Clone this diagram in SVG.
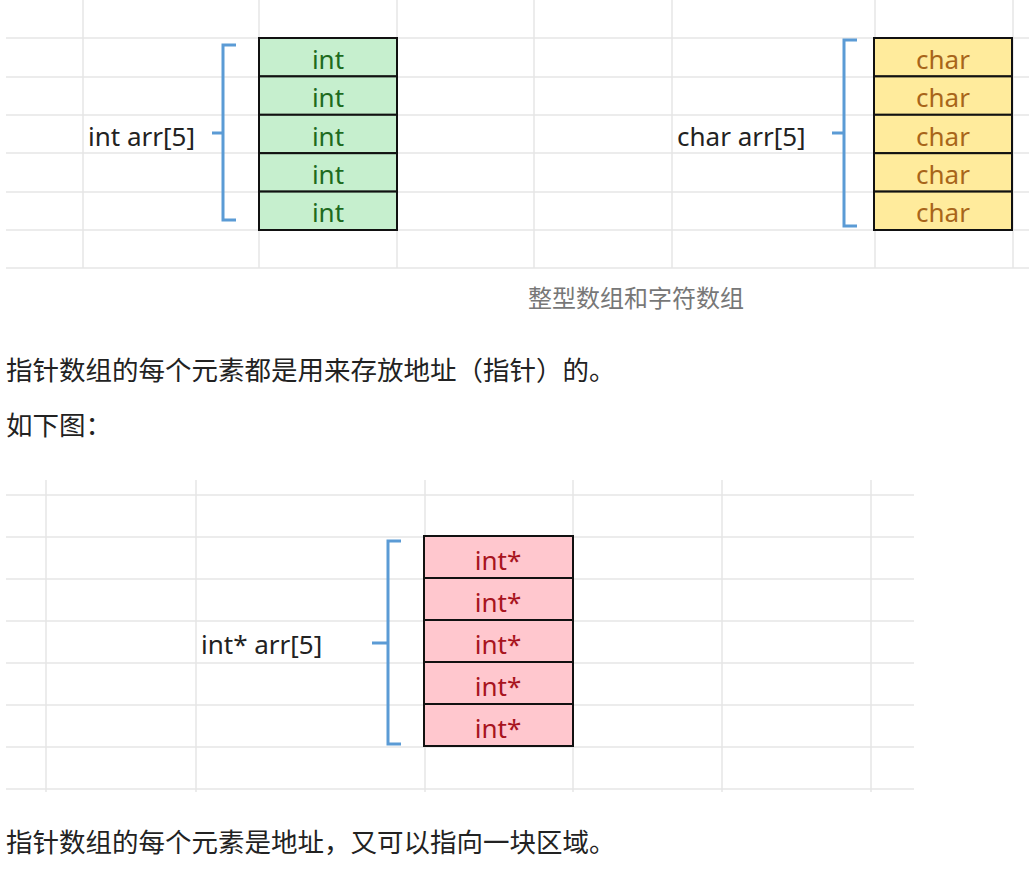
<svg xmlns="http://www.w3.org/2000/svg" width="1029" height="870" viewBox="0 0 1029 870">
<style>
.g{stroke:#e6e6e6;stroke-width:1.5}
.cell{stroke:#111;stroke-width:2}
.br{fill:none;stroke:#5b9bd5;stroke-width:3}
text{font-family:"Noto Sans","Noto Sans CJK SC",sans-serif}
.lab{font-size:26px;fill:#222}
.c{font-size:26px;text-anchor:middle}
.p{font-size:26.5px;fill:#222}
</style>
<rect width="1029" height="870" fill="#fff"/>
<g id="grid1">
<line class="g" x1="6" y1="38" x2="1029" y2="38"/><line class="g" x1="6" y1="77" x2="1029" y2="77"/><line class="g" x1="6" y1="115" x2="1029" y2="115"/><line class="g" x1="6" y1="153" x2="1029" y2="153"/><line class="g" x1="6" y1="192" x2="1029" y2="192"/><line class="g" x1="6" y1="230" x2="1029" y2="230"/><line class="g" x1="6" y1="268" x2="1029" y2="268"/>
<line class="g" x1="83" y1="0" x2="83" y2="268"/><line class="g" x1="259" y1="0" x2="259" y2="268"/><line class="g" x1="397" y1="0" x2="397" y2="268"/><line class="g" x1="534" y1="0" x2="534" y2="268"/><line class="g" x1="672" y1="0" x2="672" y2="268"/><line class="g" x1="875" y1="0" x2="875" y2="268"/><line class="g" x1="1013" y1="0" x2="1013" y2="268"/>
</g>
<g id="intArr">
<rect class="cell" x="259" y="38" width="138" height="38.4" fill="#c6efce"/><rect class="cell" x="259" y="76.4" width="138" height="38.4" fill="#c6efce"/><rect class="cell" x="259" y="114.8" width="138" height="38.4" fill="#c6efce"/><rect class="cell" x="259" y="153.2" width="138" height="38.4" fill="#c6efce"/><rect class="cell" x="259" y="191.6" width="138" height="38.4" fill="#c6efce"/>
<g class="c" fill="#1e6b1e"><text x="328" y="69">int</text><text x="328" y="107">int</text><text x="328" y="146">int</text><text x="328" y="184">int</text><text x="328" y="222">int</text></g>
<path class="br" d="M236 45 H223 V220 H236 M223 133 H212"/>
<text class="lab" x="88" y="146">int arr[5]</text>
</g>
<g id="charArr">
<rect class="cell" x="874" y="38" width="138" height="38.4" fill="#ffeb9c"/><rect class="cell" x="874" y="76.4" width="138" height="38.4" fill="#ffeb9c"/><rect class="cell" x="874" y="114.8" width="138" height="38.4" fill="#ffeb9c"/><rect class="cell" x="874" y="153.2" width="138" height="38.4" fill="#ffeb9c"/><rect class="cell" x="874" y="191.6" width="138" height="38.4" fill="#ffeb9c"/>
<g class="c" fill="#a8651a"><text x="943" y="69">char</text><text x="943" y="107">char</text><text x="943" y="146">char</text><text x="943" y="184">char</text><text x="943" y="222">char</text></g>
<path class="br" d="M857 40 H844 V226 H857 M844 133 H832"/>
<text class="lab" x="677" y="146">char arr[5]</text>
</g>
<text x="636" y="307" font-size="24" fill="#777" text-anchor="middle">整型数组和字符数组</text>
<text class="p" x="6" y="380">指针数组的每个元素都是用来存放地址（指针）的。</text>
<text class="p" x="6" y="435">如下图：</text>
<g id="grid2">
<line class="g" x1="6" y1="495" x2="914" y2="495"/><line class="g" x1="6" y1="537" x2="914" y2="537"/><line class="g" x1="6" y1="579" x2="914" y2="579"/><line class="g" x1="6" y1="621" x2="914" y2="621"/><line class="g" x1="6" y1="663" x2="914" y2="663"/><line class="g" x1="6" y1="705" x2="914" y2="705"/><line class="g" x1="6" y1="747" x2="914" y2="747"/><line class="g" x1="6" y1="789" x2="914" y2="789"/>
<line class="g" x1="46" y1="480" x2="46" y2="792"/><line class="g" x1="196" y1="480" x2="196" y2="792"/><line class="g" x1="425" y1="480" x2="425" y2="792"/><line class="g" x1="573" y1="480" x2="573" y2="792"/><line class="g" x1="722" y1="480" x2="722" y2="792"/><line class="g" x1="871" y1="480" x2="871" y2="792"/>
</g>
<g id="ptrArr">
<rect class="cell" x="424" y="536" width="149" height="42" fill="#ffc7ce"/><rect class="cell" x="424" y="578" width="149" height="42" fill="#ffc7ce"/><rect class="cell" x="424" y="620" width="149" height="42" fill="#ffc7ce"/><rect class="cell" x="424" y="662" width="149" height="42" fill="#ffc7ce"/><rect class="cell" x="424" y="704" width="149" height="42" fill="#ffc7ce"/>
<g class="c" fill="#a8141e"><text x="498" y="570">int*</text><text x="498" y="612">int*</text><text x="498" y="654">int*</text><text x="498" y="696">int*</text><text x="498" y="738">int*</text></g>
<path class="br" d="M401 541 H388 V744 H401 M388 643 H372"/>
<text class="lab" x="201" y="654">int* arr[5]</text>
</g>
<text class="p" x="6" y="852">指针数组的每个元素是地址，又可以指向一块区域。</text>
</svg>
